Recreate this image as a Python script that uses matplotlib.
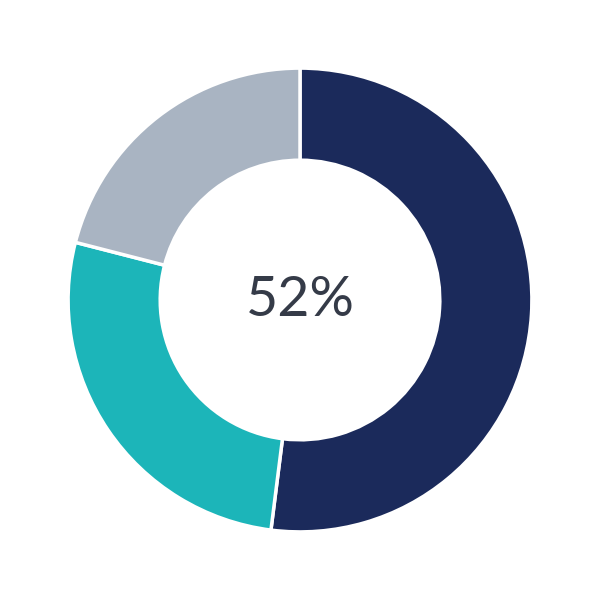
import matplotlib
matplotlib.use("Agg")
import matplotlib.pyplot as plt

# Share of each segment, clockwise from the top
labels = ["Primary", "Secondary", "Other"]
values = [52, 27, 21]
colors = ["#1b2a5b", "#1cb5b9", "#a9b4c2"]
center_label = "52%"

fig, ax = plt.subplots(figsize=(6, 6), dpi=100)
fig.subplots_adjust(left=0, right=1, bottom=0, top=1)

ax.pie(
    values,
    colors=colors,
    startangle=90,
    counterclock=False,
    radius=0.773,
    wedgeprops=dict(width=0.307, edgecolor="white", linewidth=2.5),
)
ax.text(0, 0, center_label, ha="center", va="center",
        fontsize=40, color="#353b48", family=["Lato", "DejaVu Sans"],
        fontweight="normal")
ax.set_xlim(-1, 1)
ax.set_ylim(-1, 1)
ax.set_aspect("equal")
ax.axis("off")

plt.savefig("out.png", dpi=100, facecolor="white")
plt.close()
